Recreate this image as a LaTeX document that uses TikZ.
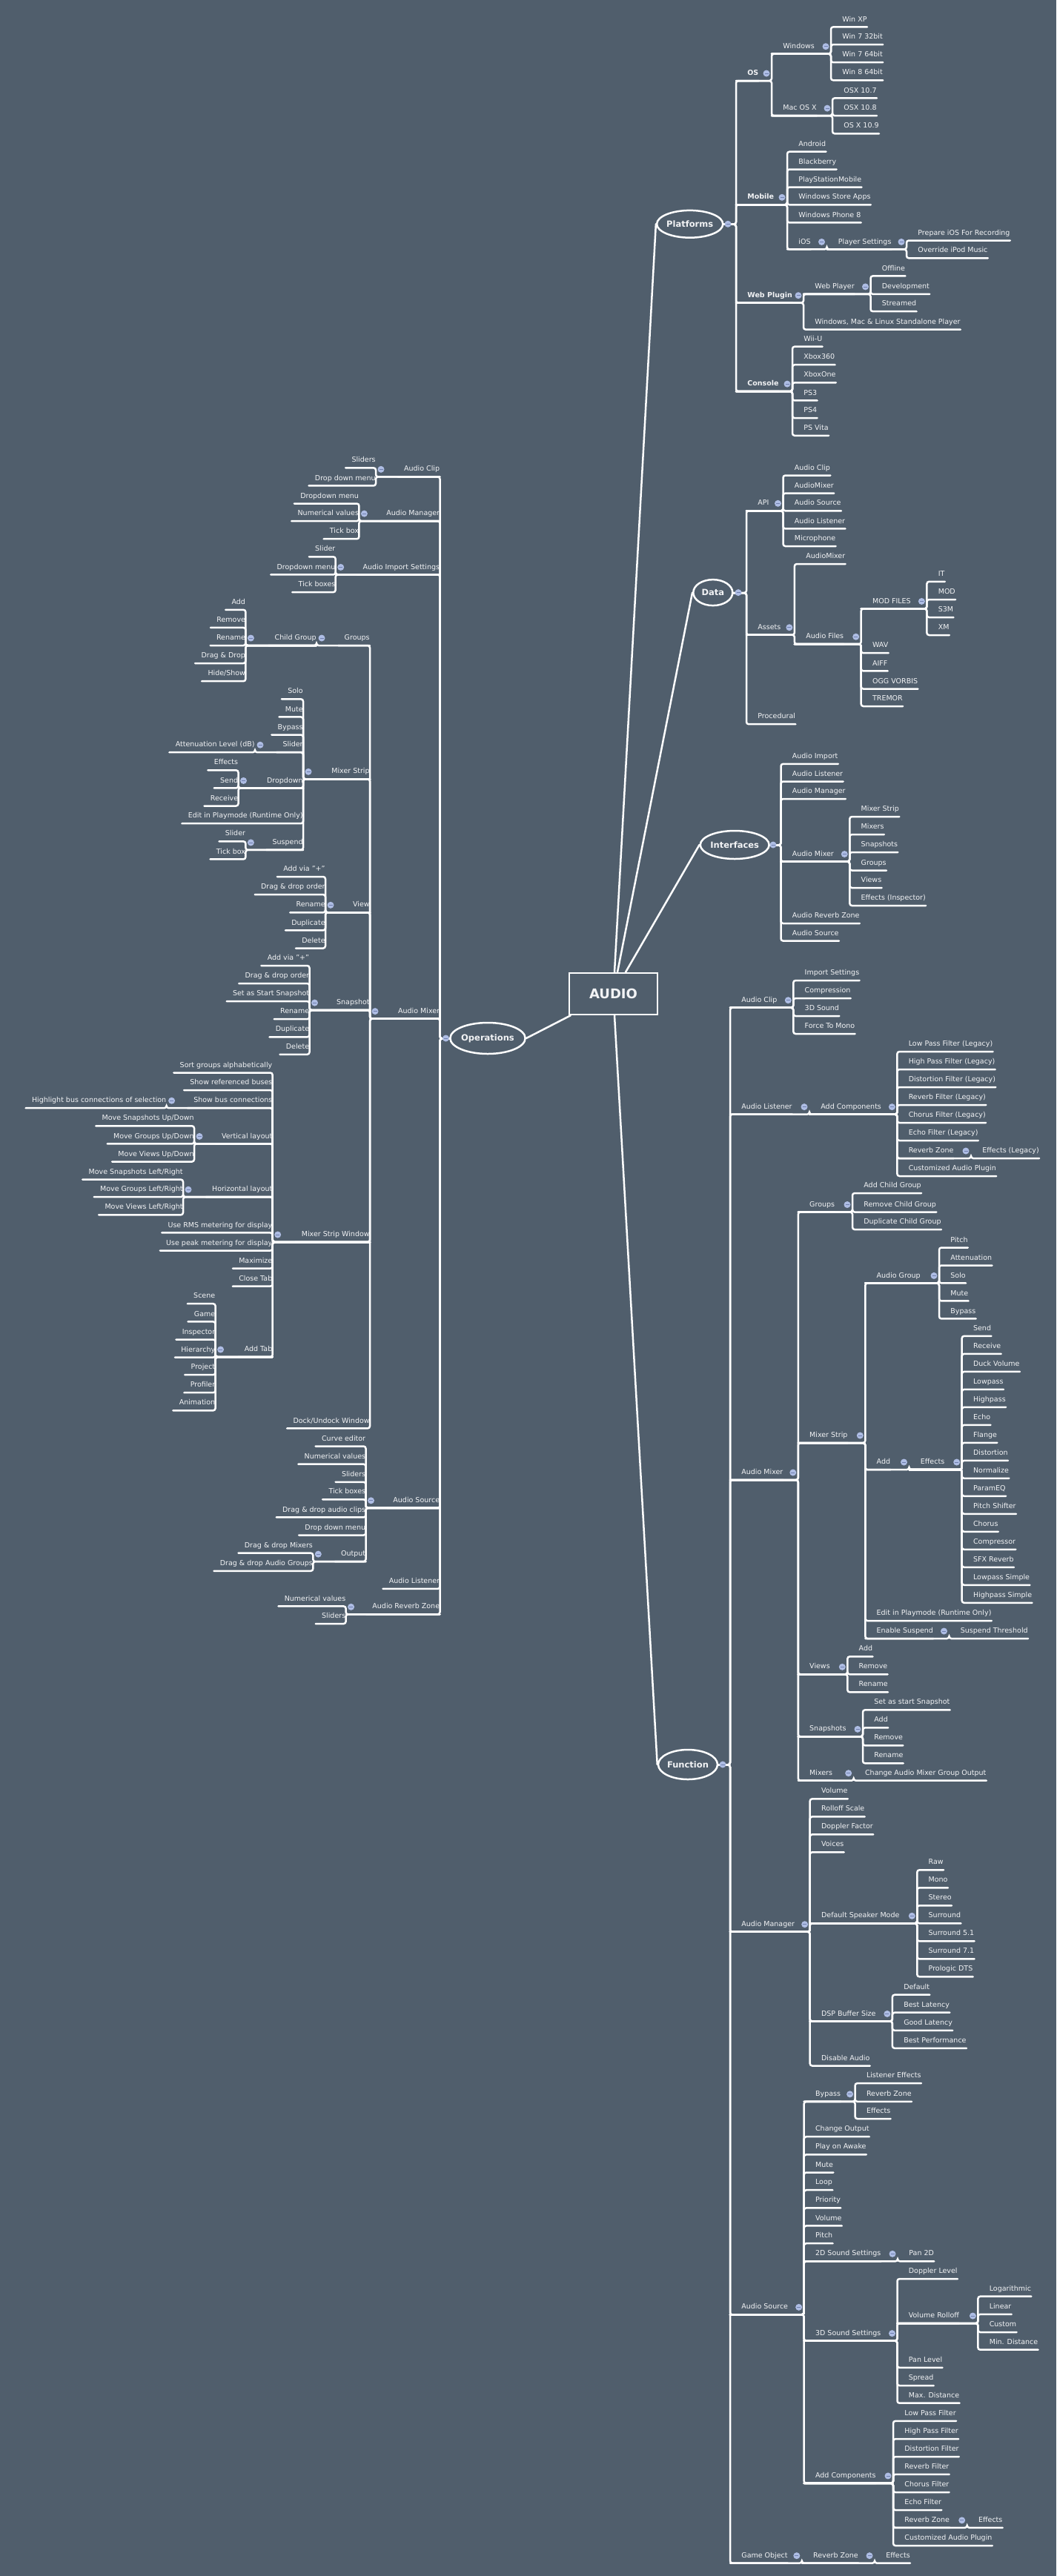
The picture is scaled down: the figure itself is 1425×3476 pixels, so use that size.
\documentclass[tikz,border=0pt]{standalone}
\usepackage{fontspec}
\setmainfont{DejaVu Sans}
\usetikzlibrary{shapes.geometric}
\definecolor{bg}{HTML}{505E6C}
\definecolor{txt}{HTML}{F2F3F5}
\definecolor{mfill}{HTML}{AEBDE4}
\definecolor{mline}{HTML}{6F7FAE}
\tikzset{
  ln/.style={draw=white,line width=1.25pt,rounded corners=1.5pt,line cap=round},
  lf/.style={inner sep=0pt,text depth=3.5pt,text=txt,font=\fontsize{4.75pt}{5.5pt}\selectfont},
  ell/.style={ellipse,draw=white,line width=1.25pt,inner sep=0pt,text=txt,font=\fontsize{5.75pt}{6pt}\selectfont\bfseries},
  anc/.style={inner sep=0pt,minimum size=0pt},
}
\newcommand\RC[5]{\node[lf,anchor=south west] (#2) at (#3,#4) {\hspace{7.5pt}#5\hspace{4pt}};
  \draw[ln] (#1.south west) -| (#2.south west) -- (#2.south east);}
\newcommand\LC[5]{\node[lf,anchor=south east] (#2) at (#3,#4) {\hspace{4pt}#5\hspace{7.5pt}};
  \draw[ln] (#1.south east) -| (#2.south east) -- (#2.south west);}
\newcommand\RK[3]{\foreach \qy/\qt [count=\qi] in {#3} {\RC{#1}{#1-\qi}{#2}{\qy}{\qt}}}
\newcommand\LK[3]{\foreach \qy/\qt [count=\qi] in {#3} {\LC{#1}{#1-\qi}{#2}{\qy}{\qt}}}
\newcommand\MC[2]{\fill[mfill] (#1,#2) circle (2.25pt); \draw[mline,line width=0.4pt] (#1-2.5,#2) -- (#1+2.5,#2);}
\newcommand\MR[2]{\MC{#1-7}{#2-10}}
\newcommand\ML[2]{\MC{#1+7}{#2-10}}
\begin{document}
\begin{tikzpicture}[x=0.5pt,y=-0.5pt]
\fill[bg] (0,0) rectangle (1425,3476);
\useasboundingbox (0,0) rectangle (1425,3476);
% root and main branches
\node[draw=white,line width=1.25pt,minimum width=59.5pt,minimum height=28pt,inner sep=0pt,text=txt,font=\fontsize{9pt}{10pt}\selectfont\bfseries] (root) at (827.5,1341) {AUDIO};
\node[ell,minimum width=42pt,minimum height=18.4pt] (plat) at (930.7,302.3) {Platforms};
\node[ell,minimum width=26.5pt,minimum height=17.5pt] (data) at (961.8,799.6) {Data};
\node[ell,minimum width=44pt,minimum height=19pt] (intf) at (991.2,1140) {Interfaces};
\node[ell,minimum width=47pt,minimum height=21pt] (ops) at (658,1401) {Operations};
\node[ell,minimum width=40pt,minimum height=20pt] (func) at (928,2381) {Function};
\draw[ln] ([xshift=0.75pt]root.north) -- (plat.west);
\draw[ln] ([xshift=2.75pt]root.north) -- (data.west);
\draw[ln] ([xshift=8.25pt]root.north) -- (intf.west);
\draw[ln] ([xshift=1.5pt]root.south west) -- (ops.east);
\draw[ln] ([xshift=0.75pt]root.south) -- (func.west);
\node[anc] (platA) at (plat.east) {};
\node[anc] (dataA) at (data.east) {};
\node[anc] (intfA) at (intf.east) {};
\node[anc] (funcA) at (func.east) {};
\node[anc] (opsA) at (ops.west) {};
% ---------- Platforms
\RC{platA}{os}{993}{109}{\textbf{OS}}
\RC{os}{win}{1041}{72.7}{Windows}
\RK{win}{1121}{36.4/Win XP,60.1/Win 7 32bit,84.2/Win 7 64bit,108.3/Win 8 64bit}
\RC{os}{mac}{1041}{156.1}{Mac OS X}
\RK{mac}{1123}{132.4/OSX 10.7,156.1/OSX 10.8,180.3/OS X 10.9}
\RC{platA}{mob}{993}{276.3}{\textbf{Mobile}}
\RK{mob}{1062}{204.7/Android,228.5/Blackberry,252.6/PlayStationMobile,276.3/Windows Store Apps,300.4/Windows Phone 8}
\RC{mob}{ios}{1062}{336.4}{iOS}
\RC{ios}{pset}{1115.5}{336.4}{Player Settings}
\RK{pset}{1223}{324.5/Prepare iOS For Recording,348.3/Override iPod Music}
\RC{platA}{web}{993}{408.7}{\textbf{Web Plugin}}
\RC{web}{wpl}{1084}{396.9}{Web Player}
\RK{wpl}{1174.5}{372.4/Offline,396.9/Development,420.2/Streamed}
\RC{web}{wml}{1084}{444.7}{Windows, Mac \& Linux Standalone Player}
\RC{platA}{con}{993}{528.1}{\textbf{Console}}
\RK{con}{1069}{467.7/Wii-U,492.2/Xbox360,516.3/XboxOne,540.4/PS3,564.1/PS4,587.8/PS Vita}
\MC{982}{302.3}
\MR{1041}{109}\MR{1121}{72.7}\MR{1123}{156.1}\MR{1062}{276.3}\MR{1115.5}{336.4}\MR{1223}{336.4}
\MR{1084}{408.7}\MR{1174.5}{396.9}\MR{1069}{528.1}
% ---------- Data
\RC{dataA}{api}{1007}{689.3}{API}
\RK{api}{1056.5}{641.5/Audio Clip,665.6/AudioMixer,689.3/Audio Source,713.4/Audio Listener,737/Microphone}
\RC{dataA}{ast}{1007}{856.7}{Assets}
\RC{ast}{amx}{1071.9}{761}{AudioMixer}
\RC{ast}{afl}{1071.9}{869.2}{Audio Files}
\RC{afl}{modf}{1161.7}{821.4}{MOD FILES}
\RK{modf}{1250.4}{784.8/IT,809/MOD,833/S3M,857/XM}
\RC{afl}{wav}{1161.7}{881.2}{WAV}
\RC{afl}{aiff}{1161.7}{905.4}{AIFF}
\RC{afl}{ogg}{1161.7}{929.5}{OGG VORBIS}
\RC{afl}{trem}{1161.7}{953}{TREMOR}
\RC{dataA}{proc}{1007}{977.2}{Procedural}
\MC{996}{799.6}\MR{1056.5}{689.3}\MR{1071.9}{856.7}\MR{1161.7}{869.2}\MR{1250.4}{821.4}
% ---------- Interfaces
\RK{intfA}{1053.5}{1030.8/Audio Import,1054.5/Audio Listener,1078/Audio Manager}
\RC{intfA}{iam}{1053.5}{1162.5}{Audio Mixer}
\RK{iam}{1146.3}{1102/Mixer Strip,1126/Mixers,1150/Snapshots,1174.5/Groups,1198/Views,1222/Effects (Inspector)}
\RC{intfA}{iarz}{1053.5}{1246}{Audio Reverb Zone}
\RC{intfA}{ias}{1053.5}{1269.6}{Audio Source}
\MC{1043}{1140}\MR{1146.3}{1162.5}
% ---------- Function
\RC{funcA}{fac}{985}{1359.7}{Audio Clip}
\RK{fac}{1070.3}{1323/Import Settings,1347/Compression,1371/3D Sound,1395/Force To Mono}
\RC{funcA}{fal}{985}{1503.6}{Audio Listener}
\RC{fal}{fadd}{1092}{1503.6}{Add Components}
\RK{fadd}{1210.4}{1419/Low Pass Filter (Legacy),1443/High Pass Filter (Legacy),1467/Distortion Filter (Legacy),1491/Reverb Filter (Legacy),1515/Chorus Filter (Legacy),1539/Echo Filter (Legacy)}
\RC{fadd}{frz}{1210.4}{1563}{Reverb Zone}
\RC{frz}{frze}{1310}{1563}{Effects (Legacy)}
\RC{fadd}{fcap}{1210.4}{1587}{Customized Audio Plugin}
\RC{funcA}{fam}{985}{1997}{Audio Mixer}
\RC{fam}{fgr}{1076.8}{1635.5}{Groups}
\RK{fgr}{1150}{1610/Add Child Group,1635.5/Remove Child Group,1659/Duplicate Child Group}
\RC{fam}{fms}{1076.8}{1947}{Mixer Strip}
\RC{fms}{fag}{1167.3}{1731.4}{Audio Group}
\RK{fag}{1267}{1683.5/Pitch,1707.5/Attenuation,1731.4/Solo,1755.4/Mute,1779.4/Bypass}
\RC{fms}{fadd2}{1167.3}{1983}{Add}
\RC{fadd2}{feff}{1226.5}{1983}{Effects}
\RK{feff}{1297.7}{1802.8/Send,1826.8/Receive,1850.8/Duck Volume,1874.8/Lowpass,1898.8/Highpass,1922.8/Echo,1946.8/Flange,1970.8/Distortion,1994.8/Normalize,2018.8/ParamEQ,2042.8/Pitch Shifter,2066.8/Chorus,2090.8/Compressor,2114.8/SFX Reverb,2138.8/Lowpass Simple,2162.8/Highpass Simple}
\RC{fms}{fedit}{1167.3}{2187}{Edit in Playmode (Runtime Only)}
\RC{fms}{fens}{1167.3}{2211}{Enable Suspend}
\RC{fens}{fsth}{1280.5}{2211}{Suspend Threshold}
\RC{fam}{fvw}{1076.8}{2259.3}{Views}
\RK{fvw}{1143.3}{2235.3/Add,2259.3/Remove,2283.3/Rename}
\RC{fam}{fsn}{1076.8}{2343.3}{Snapshots}
\RK{fsn}{1164}{2307.3/Set as start Snapshot,2331.3/Add,2355.3/Remove,2379.3/Rename}
\RC{fam}{fmx}{1076.8}{2402.7}{Mixers}
\RC{fmx}{fcg}{1151.7}{2402.7}{Change Audio Mixer Group Output}
\RC{funcA}{fman}{985}{2606.7}{Audio Manager}
\RK{fman}{1092.7}{2427.3/Volume,2451.3/Rolloff Scale,2475.3/Doppler Factor,2499.3/Voices}
\RC{fman}{fdsm}{1092.7}{2595.3}{Default Speaker Mode}
\RK{fdsm}{1237.3}{2523.3/Raw,2547.3/Mono,2571.3/Stereo,2595.3/Surround,2619.3/Surround 5.1,2643.3/Surround 7.1,2667.3/Prologic DTS}
\RC{fman}{fdsp}{1092.7}{2727.4}{DSP Buffer Size}
\RK{fdsp}{1203.9}{2691.7/Default,2715.7/Best Latency,2739.8/Good Latency,2763.8/Best Performance}
\RC{fman}{fdis}{1092.7}{2787.5}{Disable Audio}
\RC{funcA}{fsrc}{985}{3123.3}{Audio Source}
\RC{fsrc}{fbyp}{1084.7}{2835.8}{Bypass}
\RK{fbyp}{1153.6}{2811.1/Listener Effects,2835.8/Reverb Zone,2859/Effects}
\RC{fsrc}{fco}{1084.7}{2883.2}{Change Output}
\RC{fsrc}{fpa}{1084.7}{2907.3}{Play on Awake}
\RC{fsrc}{fmu}{1084.7}{2931.5}{Mute}
\RC{fsrc}{flo}{1084.7}{2955.2}{Loop}
\RC{fsrc}{fpr}{1084.7}{2979.3}{Priority}
\RC{fsrc}{fvo}{1084.7}{3003.4}{Volume}
\RC{fsrc}{fpi}{1084.7}{3027.2}{Pitch}
\RC{fsrc}{f2d}{1084.7}{3051.3}{2D Sound Settings}
\RC{f2d}{fpan}{1211}{3051.3}{Pan 2D}
\RC{fsrc}{f3d}{1084.7}{3158.6}{3D Sound Settings}
\RC{f3d}{fdl}{1210.5}{3075}{Doppler Level}
\RC{f3d}{fvr}{1210.5}{3135}{Volume Rolloff}
\RK{fvr}{1319.4}{3098.7/Logarithmic,3122.8/Linear,3147/Custom,3170.7/Min. Distance}
\RC{f3d}{fpl}{1210.5}{3194.8}{Pan Level}
\RC{f3d}{fsp}{1210.5}{3219}{Spread}
\RC{f3d}{fmd}{1210.5}{3242.7}{Max. Distance}
\RC{fsrc}{fac2}{1084.7}{3350.9}{Add Components}
\RK{fac2}{1205}{3266.8/Low Pass Filter,3291/High Pass Filter,3315/Distortion Filter,3338.8/Reverb Filter,3363/Chorus Filter,3387/Echo Filter}
\RC{fac2}{frz2}{1205}{3410.8}{Reverb Zone}
\RC{frz2}{frze2}{1304.7}{3410.8}{Effects}
\RC{fac2}{fcap2}{1205}{3435}{Customized Audio Plugin}
\RC{funcA}{fgo}{985}{3458.6}{Game Object}
\RC{fgo}{fgrz}{1081.8}{3458.6}{Reverb Zone}
\RC{fgrz}{fgre}{1180}{3458.6}{Effects}
\MC{975}{2381}
\MR{1070.3}{1359.7}\MR{1092}{1503.6}\MR{1210.4}{1503.6}\MR{1310}{1563}\MR{1076.8}{1997}
\MR{1150}{1635.5}\MR{1167.3}{1947}\MR{1267}{1731.4}\MR{1226.5}{1983}\MR{1297.7}{1983}
\MR{1280.5}{2211}\MR{1143.3}{2259.3}\MR{1164}{2343.3}\MR{1151.7}{2402.7}
\MR{1092.7}{2606.7}\MR{1237.3}{2595.3}\MR{1203.9}{2727.4}\MR{1084.7}{3123.3}\MR{1153.6}{2835.8}
\MR{1211}{3051.3}\MR{1210.5}{3158.6}\MR{1319.4}{3135}\MR{1205}{3350.9}\MR{1304.7}{3410.8}
\MR{1081.8}{3458.6}\MR{1180}{3458.6}
% ---------- Operations
\LC{opsA}{oac}{593.5}{643.3}{Audio Clip}
\LK{oac}{507}{631.3/Sliders,655.4/Drop down menu}
\LC{opsA}{oam}{593.5}{703.1}{Audio Manager}
\LK{oam}{484.4}{679.5/Dropdown menu,703.1/Numerical values,727.2/Tick box}
\LC{opsA}{oai}{593.5}{775.4}{Audio Import Settings}
\LK{oai}{452.7}{751.3/Slider,775.4/Dropdown menu,799.1/Tick boxes}
\LC{opsA}{omx}{593.5}{1374.6}{Audio Mixer}
\LC{omx}{ogr}{499}{871}{Groups}
\LC{ogr}{ocg}{427}{871}{Child Group}
\LK{ocg}{331.4}{822.8/Add,846.9/Remove,871/Rename,895/Drag \& Drop,919.2/{Hide/Show}}
\LC{omx}{oms}{499}{1051.3}{Mixer Strip}
\LK{oms}{409}{943.3/Solo,967.4/Mute,991.5/Bypass}
\LC{oms}{osl}{409}{1015.2}{Slider}
\LC{osl}{oatt}{344}{1015.2}{Attenuation Level (dB)}
\LC{oms}{odd}{409}{1063.4}{Dropdown}
\LK{odd}{321.5}{1039.3/Effects,1063.4/Send,1087.5/Receive}
\LC{oms}{oed}{409}{1111.2}{Edit in Playmode (Runtime Only)}
\LC{oms}{osus}{409}{1146.9}{Suspend}
\LK{osus}{331.4}{1135.3/Slider,1159.4/Tick box}
\LC{omx}{ovw}{499}{1231.3}{View}
\LK{ovw}{439}{1183/Add via "+",1207.1/Drag \& drop order,1231.3/Rename,1255.4/Duplicate,1279.5/Delete}
\LC{omx}{osn}{499}{1363.1}{Snapshot}
\LK{osn}{417.5}{1303/Add via "+",1327/Drag \& drop order,1351.1/Set as Start Snapshot,1375.2/Rename,1399.3/Duplicate,1422.8/Delete}
\LC{omx}{omsw}{499}{1676}{Mixer Strip Window}
\LC{omsw}{osga}{367.7}{1447.5}{Sort groups alphabetically}
\LC{omsw}{osrb}{367.7}{1471}{Show referenced buses}
\LC{omsw}{osbc}{367.7}{1495.2}{Show bus connections}
\LC{osbc}{ohl}{224.6}{1495.2}{Highlight bus connections of selection}
\LC{omsw}{ovl}{367.7}{1543.4}{Vertical layout}
\LK{ovl}{262}{1519.3/{Move Snapshots Up/Down},1543.4/{Move Groups Up/Down},1567.5/{Move Views Up/Down}}
\LC{omsw}{ohz}{367.7}{1615.2}{Horizontal layout}
\LK{ohz}{247}{1591.6/{Move Snapshots Left/Right},1615.2/{Move Groups Left/Right},1639.3/{Move Views Left/Right}}
\LC{omsw}{orms}{367.7}{1663.4}{Use RMS metering for display}
\LC{omsw}{opk}{367.7}{1687.5}{Use peak metering for display}
\LC{omsw}{omax}{367.7}{1711.6}{Maximize}
\LC{omsw}{oct}{367.7}{1735.7}{Close Tab}
\LC{omsw}{oat}{367.7}{1831}{Add Tab}
\LK{oat}{290.6}{1759.2/Scene,1783.4/Game,1807.5/Inspector,1831.6/Hierarchy,1855.1/Project,1879.2/Profiler,1903.3/Animation}
\LC{omx}{odock}{499}{1927.4}{Dock/Undock Window}
\LC{opsA}{osrc}{593.5}{2034.8}{Audio Source}
\LK{osrc}{493.5}{1951.5/Curve editor,1975.7/Numerical values,1999.8/Sliders,2023.3/Tick boxes,2047.4/Drag \& drop audio clips,2071.5/Drop down menu}
\LC{osrc}{oout}{493.5}{2107.1}{Output}
\LK{oout}{422.3}{2095.6/Drag \& drop Mixers,2119.8/Drag \& drop Audio Groups}
\LC{opsA}{oal}{593.5}{2143.9}{Audio Listener}
\LC{opsA}{orz}{593.5}{2178.3}{Audio Reverb Zone}
\LK{orz}{466.6}{2167.4/Numerical values,2191/Sliders}
\MC{601.5}{1401}
\ML{507}{643.3}\ML{484.4}{703.1}\ML{452.7}{775.4}\ML{499}{1374.6}\ML{427}{871}\ML{331.4}{871}
\ML{409}{1051.3}\ML{344}{1015.2}\ML{321.5}{1063.4}\ML{331.4}{1146.9}\ML{439}{1231.3}\ML{417.5}{1363.1}
\ML{367.7}{1676}\ML{224.6}{1495.2}\ML{262}{1543.4}\ML{247}{1615.2}\ML{290.6}{1831}
\ML{493.5}{2034.8}\ML{422.3}{2107.1}\ML{466.6}{2178.3}
\end{tikzpicture}
\end{document}
